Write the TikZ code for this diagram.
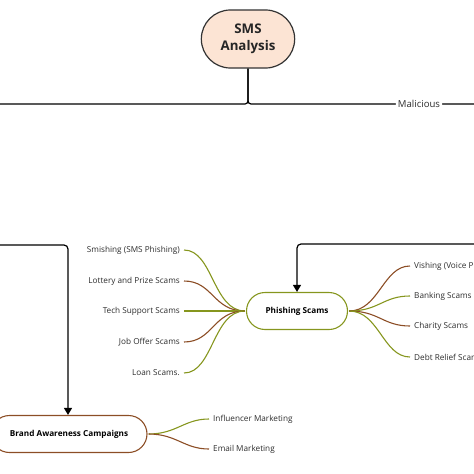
\documentclass[tikz,border=0pt]{standalone}
\usepackage{fontspec}
\setmainfont{Open Sans}
\usetikzlibrary{shapes.misc,arrows.meta}
\definecolor{olive}{RGB}{134,150,30}
\definecolor{brownb}{RGB}{140,78,38}
\definecolor{peach}{RGB}{252,228,212}
\definecolor{txt}{RGB}{45,45,45}
\tikzset{
  topic/.style={rounded rectangle, draw, line width=1.1pt, font=\bfseries\fontsize{8.2}{10}\selectfont, text=black, inner sep=0pt},
  leaf/.style={font=\fontsize{8.2}{10}\selectfont, text=txt, inner sep=1pt},
  obr/.style={olive, line width=1.1pt},
  bbr/.style={brownb, line width=1.1pt},
  link/.style={line width=1.2pt, black, rounded corners=4pt},
  arr/.style={link, -{Triangle[length=7pt,width=8pt]}},
}
\begin{document}
\begin{tikzpicture}[x=1pt,y=-1pt]
\useasboundingbox (0,0) rectangle (474,474);
% root
\node[rounded rectangle, draw=black!80, fill=peach, line width=1.2pt, minimum width=100pt, minimum height=58pt, font=\bfseries\fontsize{13.3}{16.5}\selectfont, align=center, text=black!85] (sms) at (248,39) {SMS\\Analysis};
\coordinate (j) at (248,104);
\coordinate (lw) at (-2,104);
\coordinate (re) at (476,104);
\draw[line width=1.2pt, rounded corners=3pt] (sms.south) -- (j) -- (lw);
\draw[line width=1.2pt, rounded corners=3pt] (sms.south) -- (j) -- (re) node[pos=0.75, fill=white, inner xsep=2pt, font=\fontsize{9.6}{11}\selectfont, text=txt] (mal) {Malicious};

% topics
\node[topic, draw=olive, minimum width=101pt, minimum height=37pt] (phish) at (297,311) {Phishing Scams};
\node[topic, draw=brownb, minimum width=156pt, minimum height=37pt] (brand) at (69,434) {Brand Awareness Campaigns};

% arrows into topics
\coordinate (pr) at (476,244);
\coordinate (bl) at (-2,245);
\draw[arr] (pr) -- (297,244) -- (phish.north);
\draw[arr] (bl) -- (68,245) -- (brand.north -| 68,0);

% left leaves of phishing
\node[leaf, anchor=east] (l1) at (181,250) {Smishing (SMS Phishing)};
\node[leaf, anchor=east] (l2) at (181,281) {Lottery and Prize Scams};
\node[leaf, anchor=east] (l3) at (181,311) {Tech Support Scams};
\node[leaf, anchor=east] (l4) at (181,342) {Job Offer Scams};
\node[leaf, anchor=east] (l5) at (181,373) {Loan Scams.};
\coordinate (pw) at ([xshift=-1pt]phish.west);
\foreach \n/\s in {l1/obr,l2/bbr,l3/obr,l4/bbr,l5/obr}
  \draw[\s] (pw) .. controls ([xshift=-32pt]pw) and ([xshift=32pt]\n.east) .. ([xshift=3pt]\n.east);

% right leaves of phishing
\node[leaf, anchor=west] (r1) at (413,266) {Vishing (Voice Phishing)};
\node[leaf, anchor=west] (r2) at (413,296) {Banking Scams};
\node[leaf, anchor=west] (r3) at (413,326) {Charity Scams};
\node[leaf, anchor=west] (r4) at (413,357) {Debt Relief Scams};
\coordinate (pe) at ([xshift=1pt]phish.east);
\foreach \n/\s in {r1/bbr,r2/obr,r3/bbr,r4/obr}
  \draw[\s] (pe) .. controls ([xshift=30pt]pe) and ([xshift=-30pt]\n.west) .. ([xshift=-3pt]\n.west);

% brand leaves
\node[leaf, anchor=west] (b1) at (212,419) {Influencer Marketing};
\node[leaf, anchor=west] (b2) at (212,449) {Email Marketing};
\coordinate (be) at ([xshift=1pt]brand.east);
\draw[obr] (be) .. controls ([xshift=28pt]be) and ([xshift=-28pt]b1.west) .. ([xshift=-3pt]b1.west);
\draw[bbr] (be) .. controls ([xshift=28pt]be) and ([xshift=-28pt]b2.west) .. ([xshift=-3pt]b2.west);
\end{tikzpicture}
\end{document}
